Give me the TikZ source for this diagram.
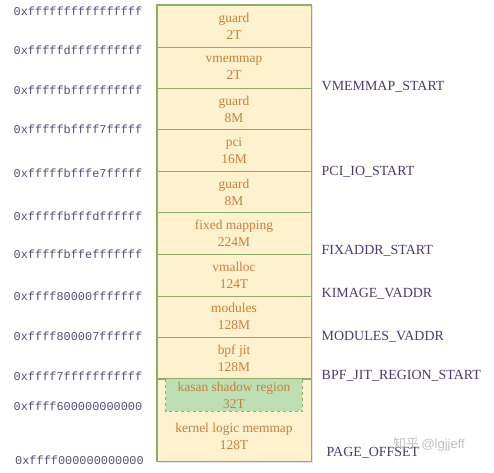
\documentclass[tikz,border=0pt]{standalone}
\usepackage{fontspec}
\setmainfont{Liberation Serif}
\setmonofont{Liberation Mono}
\newfontfamily\cjkfont{Noto Sans CJK SC}
\newfontfamily\wmfont{Liberation Sans}
\definecolor{addrcol}{HTML}{5A4A80}
\definecolor{labcol}{HTML}{4E3A6E}
\definecolor{txtcol}{HTML}{C8803C}
\definecolor{fillcol}{HTML}{FDF1CE}
\definecolor{edgecol}{HTML}{8CAE6A}
\definecolor{kasanfill}{HTML}{BEDFB4}
\definecolor{wmcol}{HTML}{B0B0B0}
\tikzset{
  region/.style={draw=edgecol, line width=0.9pt, fill=fillcol, text=txtcol,
    minimum width=154bp, inner sep=0pt, align=center,
    font=\fontsize{13.5}{17}\selectfont},
  kasanbox/.style={fill=kasanfill, text=txtcol, inner sep=0pt, align=center,
    font=\fontsize{13.5}{17}\selectfont},
  addr/.style={anchor=west, inner sep=0pt, text=addrcol,
    font=\ttfamily\fontsize{11.95}{12}\selectfont},
  sym/.style={anchor=west, inner sep=0pt, text=labcol,
    font=\fontsize{14}{16}\selectfont},
}
\begin{document}
\begin{tikzpicture}[x=1bp,y=-1bp]
\useasboundingbox[fill=white] (0,0) rectangle (494,473);
% shadow
\fill[black!10] (158.5,6.5) rectangle (312.5,462.5);
% outer box background
\fill[fillcol] (157,5) rectangle (311,461);
% rows
\node[region, minimum height=42.5bp] (r1) at (234,26.25) {guard\\2T};
\node[region, minimum height=41bp] (r2) at (234,68) {vmemmap\\2T};
\node[region, minimum height=41bp] (r3) at (234,109) {guard\\8M};
\node[region, minimum height=42bp] (r4) at (234,150.5) {pci\\16M};
\node[region, minimum height=41bp] (r5) at (234,192) {guard\\8M};
\node[region, minimum height=41.5bp] (r6) at (234,233.25) {fixed mapping\\224M};
\node[region, minimum height=42bp] (r7) at (234,275) {vmalloc\\124T};
\node[region, minimum height=41.5bp] (r8) at (234,316.75) {modules\\128M};
\node[region, minimum height=41.5bp] (r9) at (234,358.25) {bpf jit\\128M};
% lower region
\node[region, minimum height=82bp] (r10) at (234,420) {};
\node[kasanbox, minimum width=136bp, minimum height=32bp] (k) at (234,395) {kasan shadow region\\32T};
\draw[edgecol, line width=0.9pt, dashed] (k.north west) -- (k.south west) -- (k.south east) -- (k.north east);
\draw[edgecol, line width=0.9pt] (r10.north west) -- (r10.north east);
\node[text=txtcol, inner sep=0pt, align=center, font=\fontsize{13.5}{17}\selectfont] (kl) at (234,436) {kernel logic memmap\\128T};
% outer border
\draw[edgecol, line width=0.9pt] (r1.north west) rectangle (r10.south east);
% addresses
\node[addr] (a1) at (13.5,11) {0xffffffffffffffff};
\node[addr] (a2) at (13.5,50) {0xfffffdffffffffff};
\node[addr] (a3) at (13.5,90) {0xfffffbffffffffff};
\node[addr] (a4) at (13.5,129.5) {0xfffffbffff7fffff};
\node[addr] (a5) at (13.5,173) {0xfffffbfffe7fffff};
\node[addr] (a6) at (13.5,216) {0xfffffbfffdffffff};
\node[addr] (a7) at (13.5,254) {0xfffffbffefffffff};
\node[addr] (a8) at (13.5,296.5) {0xffff80000fffffff};
\node[addr] (a9) at (13.5,336.5) {0xffff800007ffffff};
\node[addr] (a10) at (13.5,376.5) {0xffff7fffffffffff};
\node[addr] (a11) at (13.5,406.5) {0xffff600000000000};
\node[addr] (a12) at (15,460) {0xffff000000000000};
% symbols
\node[sym] (l1) at (321.5,86.5) {VMEMMAP\_START};
\node[sym] (l2) at (321.5,171.5) {PCI\_IO\_START};
\node[sym] (l3) at (321.5,250.5) {FIXADDR\_START};
\node[sym] (l4) at (321.5,294) {KIMAGE\_VADDR};
\node[sym] (l5) at (321.5,336.5) {MODULES\_VADDR};
\node[sym] (l6) at (321.5,376) {BPF\_JIT\_REGION\_START};
\node[sym] (l7) at (326.5,452.5) {PAGE\_OFFSET};
% watermark
\node[anchor=west, inner sep=0pt, text=wmcol, opacity=0.8] (wm) at (393,444) {{\cjkfont\fontsize{13}{14}\selectfont 知乎} {\wmfont\fontsize{13}{14}\selectfont @lgjjeff}};
\end{tikzpicture}
\end{document}
